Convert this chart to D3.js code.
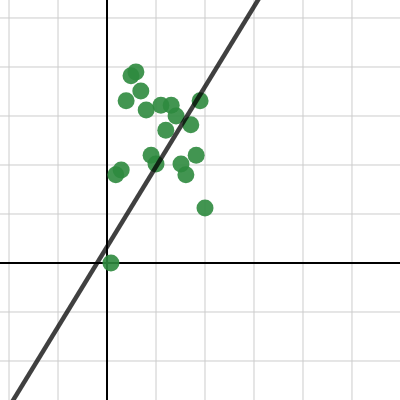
<!DOCTYPE html>
<html><head><meta charset="utf-8">
<script src="https://cdn.jsdelivr.net/npm/d3@7"></script>
<style>body{margin:0;background:#fff}svg{display:block}</style>
</head><body>
<script>
const xs = [0.08,0.18,0.29,0.39,0.49,0.59,0.69,0.80,0.90,1.0,1.1,1.2,1.31,1.41,1.51,1.61,1.71,1.82,1.9,2.0];
const ys = [0,1.8,1.9,3.31,3.82,3.9,3.51,3.12,2.2,2.02,3.22,2.71,3.22,3.0,2.02,1.8,2.82,2.2,3.31,1.12];
const slope = [1.634];
const intercept = [0.33];
const W=400,H=400;
const x=d3.scaleLinear().domain([-2.184,5.98]).range([0,W]);
const y=d3.scaleLinear().domain([-2.796,5.367]).range([H,0]);
const svg=d3.select("body").append("svg").attr("width",W).attr("height",H);
const gx=d3.range(-2,7), gy=d3.range(-2,6);
svg.selectAll(".gx").data(gx).enter().append("line").attr("x1",d=>x(d)).attr("x2",d=>x(d)).attr("y1",0).attr("y2",H).attr("stroke","#ccc").attr("stroke-width",1);
svg.selectAll(".gy").data(gy).enter().append("line").attr("y1",d=>y(d)).attr("y2",d=>y(d)).attr("x1",0).attr("x2",W).attr("stroke","#ccc").attr("stroke-width",1);
svg.append("line").attr("x1",x(0)).attr("x2",x(0)).attr("y1",0).attr("y2",H).attr("stroke","#000").attr("stroke-width",2);
svg.append("line").attr("y1",y(0)).attr("y2",y(0)).attr("x1",0).attr("x2",W).attr("stroke","#000").attr("stroke-width",2);
svg.selectAll("circle").data(xs.map((v,i)=>[v,ys[i]])).enter().append("circle")
 .attr("cx",d=>x(d[0])).attr("cy",d=>y(d[1])).attr("r",8.5).attr("fill","#2d8a3e").attr("fill-opacity",0.9);
const x0=-3,x1=7;
svg.append("line").attr("x1",x(x0)).attr("y1",y(slope[0]*x0+intercept[0])).attr("x2",x(x1)).attr("y2",y(slope[0]*x1+intercept[0]))
 .attr("stroke","#000").attr("stroke-opacity",0.75).attr("stroke-width",4.5);
</script>
</body></html>
